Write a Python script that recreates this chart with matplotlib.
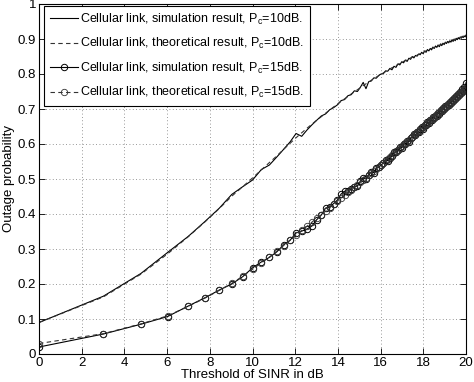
import numpy as np
import matplotlib
matplotlib.use("Agg")
import matplotlib.pyplot as plt

plt.rcParams['font.family'] = ['Liberation Sans', 'DejaVu Sans']
plt.rcParams['mathtext.fontset'] = 'custom'
plt.rcParams['mathtext.rm'] = 'Liberation Sans'
plt.rcParams['mathtext.it'] = 'Liberation Sans'

# SINR thresholds (linear 1..100), plotted in dB
sinr_linear = list(range(1, 101))

upper_sim = [
    0.090, 0.165, 0.230, 0.290, 0.336, 0.379, 0.417, 0.456, 0.478, 0.497,
    0.527, 0.540, 0.563, 0.585, 0.606, 0.630, 0.622, 0.640, 0.655, 0.668,
    0.680, 0.686, 0.698, 0.704, 0.712, 0.724, 0.727, 0.738, 0.741, 0.752,
    0.750, 0.762, 0.776, 0.758, 0.778, 0.780, 0.789, 0.788, 0.796, 0.800,
    0.801, 0.809, 0.808, 0.816, 0.812, 0.822, 0.819, 0.829, 0.826, 0.835,
    0.832, 0.840, 0.836, 0.845, 0.842, 0.850, 0.846, 0.853, 0.851, 0.857,
    0.855, 0.862, 0.858, 0.866, 0.862, 0.870, 0.866, 0.873, 0.869, 0.877,
    0.873, 0.880, 0.876, 0.883, 0.878, 0.886, 0.881, 0.888, 0.884, 0.891,
    0.887, 0.893, 0.889, 0.895, 0.891, 0.898, 0.893, 0.900, 0.895, 0.902,
    0.898, 0.904, 0.900, 0.906, 0.902, 0.908, 0.904, 0.909, 0.906, 0.911]

upper_theo = [
    0.090, 0.163, 0.228, 0.286, 0.335, 0.378, 0.416, 0.451, 0.478, 0.503,
    0.526, 0.547, 0.566, 0.585, 0.602, 0.618, 0.632, 0.645, 0.657, 0.668,
    0.678, 0.688, 0.697, 0.706, 0.714, 0.722, 0.729, 0.736, 0.743, 0.749,
    0.755, 0.761, 0.767, 0.772, 0.777, 0.782, 0.787, 0.791, 0.795, 0.799,
    0.803, 0.807, 0.811, 0.814, 0.818, 0.821, 0.824, 0.827, 0.830, 0.833,
    0.836, 0.838, 0.841, 0.843, 0.846, 0.848, 0.850, 0.852, 0.854, 0.856,
    0.858, 0.860, 0.862, 0.864, 0.866, 0.868, 0.869, 0.871, 0.873, 0.874,
    0.876, 0.877, 0.879, 0.880, 0.882, 0.883, 0.885, 0.886, 0.887, 0.889,
    0.890, 0.891, 0.892, 0.894, 0.895, 0.896, 0.897, 0.898, 0.899, 0.900,
    0.901, 0.902, 0.903, 0.904, 0.905, 0.906, 0.907, 0.908, 0.909, 0.910]

lower_sim = [
    0.020, 0.057, 0.085, 0.107, 0.137, 0.161, 0.183, 0.200, 0.221, 0.246,
    0.263, 0.276, 0.292, 0.312, 0.325, 0.346, 0.351, 0.357, 0.366, 0.384,
    0.397, 0.417, 0.420, 0.430, 0.440, 0.457, 0.465, 0.466, 0.472, 0.478,
    0.480, 0.494, 0.502, 0.500, 0.512, 0.520, 0.518, 0.531, 0.533, 0.540,
    0.545, 0.555, 0.552, 0.560, 0.566, 0.577, 0.578, 0.582, 0.592, 0.590,
    0.601, 0.600, 0.610, 0.606, 0.617, 0.619, 0.628, 0.625, 0.635, 0.634,
    0.642, 0.648, 0.644, 0.655, 0.654, 0.663, 0.660, 0.670, 0.668, 0.677,
    0.675, 0.684, 0.681, 0.690, 0.686, 0.696, 0.693, 0.703, 0.700, 0.708,
    0.707, 0.714, 0.711, 0.720, 0.717, 0.727, 0.722, 0.731, 0.728, 0.738,
    0.734, 0.744, 0.739, 0.750, 0.745, 0.756, 0.752, 0.762, 0.757, 0.775]

lower_theo = [
    0.030, 0.058, 0.086, 0.109, 0.136, 0.160, 0.182, 0.202, 0.222, 0.242,
    0.260, 0.277, 0.294, 0.310, 0.325, 0.340, 0.353, 0.365, 0.377, 0.388,
    0.398, 0.408, 0.418, 0.428, 0.437, 0.446, 0.454, 0.462, 0.470, 0.477,
    0.484, 0.491, 0.498, 0.504, 0.511, 0.517, 0.523, 0.529, 0.535, 0.541,
    0.547, 0.552, 0.558, 0.563, 0.569, 0.574, 0.579, 0.584, 0.589, 0.594,
    0.599, 0.603, 0.607, 0.612, 0.616, 0.621, 0.625, 0.629, 0.633, 0.637,
    0.641, 0.645, 0.649, 0.653, 0.657, 0.661, 0.664, 0.668, 0.671, 0.675,
    0.678, 0.681, 0.684, 0.688, 0.691, 0.694, 0.697, 0.700, 0.703, 0.706,
    0.709, 0.712, 0.715, 0.718, 0.721, 0.724, 0.727, 0.729, 0.732, 0.735,
    0.737, 0.740, 0.742, 0.745, 0.748, 0.750, 0.753, 0.755, 0.758, 0.760]

labels = [
    'Cellular link, simulation result, P$_\\mathrm{c}$=10dB.',
    'Cellular link, theoretical result, P$_\\mathrm{c}$=10dB.',
    'Cellular link, simulation result, P$_\\mathrm{c}$=15dB.',
    'Cellular link, theoretical result, P$_\\mathrm{c}$=15dB.',
]
x_ticks = [0, 2, 4, 6, 8, 10, 12, 14, 16, 18, 20]
y_ticks = [0, 0.1, 0.2, 0.3, 0.4, 0.5, 0.6, 0.7, 0.8, 0.9, 1]
y_ticklabels = ['0', '0.1', '0.2', '0.3', '0.4', '0.5', '0.6', '0.7', '0.8', '0.9', '1']

threshold_db = 10 * np.log10(np.array(sinr_linear, dtype=float))

fig = plt.figure(figsize=(4.74, 3.82), dpi=100)
ax = fig.add_axes([39/474, 1 - 354/382, 427/474, 350/382])

lw = 0.8
ax.plot(threshold_db, upper_sim, '-', color='black', lw=lw, label=labels[0])
ax.plot(threshold_db, upper_theo, '--', color='#333333', lw=lw, dashes=(4, 3), label=labels[1])
ax.plot(threshold_db, lower_sim, '-', color='black', lw=lw, marker='o', ms=4.6,
        mfc='none', mew=0.7, label=labels[2])
ax.plot(threshold_db, lower_theo, '--', color='#333333', lw=lw, dashes=(4, 3), marker='o', ms=4.6,
        mfc='none', mew=0.6, label=labels[3])

ax.set_xlim(0, 20)
ax.set_ylim(0, 1)
ax.set_xticks(x_ticks)
ax.set_yticks(y_ticks)
ax.set_yticklabels(y_ticklabels)
ax.tick_params(direction='in', top=True, right=True, length=4, width=0.6,
               labelsize=9.5, pad=2)
ax.grid(True, linestyle=(0, (1, 3)), color='#777777', lw=0.6)
for s in ax.spines.values():
    s.set_linewidth(0.8)

ax.set_xlabel('Threshold of SINR in dB', fontsize=9.5, labelpad=0)
ax.set_ylabel('Outage probability', fontsize=9.5, labelpad=2)

leg = ax.legend(loc='upper left', bbox_to_anchor=(5/427, 348/350), borderaxespad=0,
                fontsize=9, handlelength=2.3, handletextpad=0.15, labelspacing=0.75,
                borderpad=0.45, fancybox=False, framealpha=1, edgecolor='black')
leg.get_frame().set_linewidth(0.8)

fig.savefig('out.png', dpi=100)
